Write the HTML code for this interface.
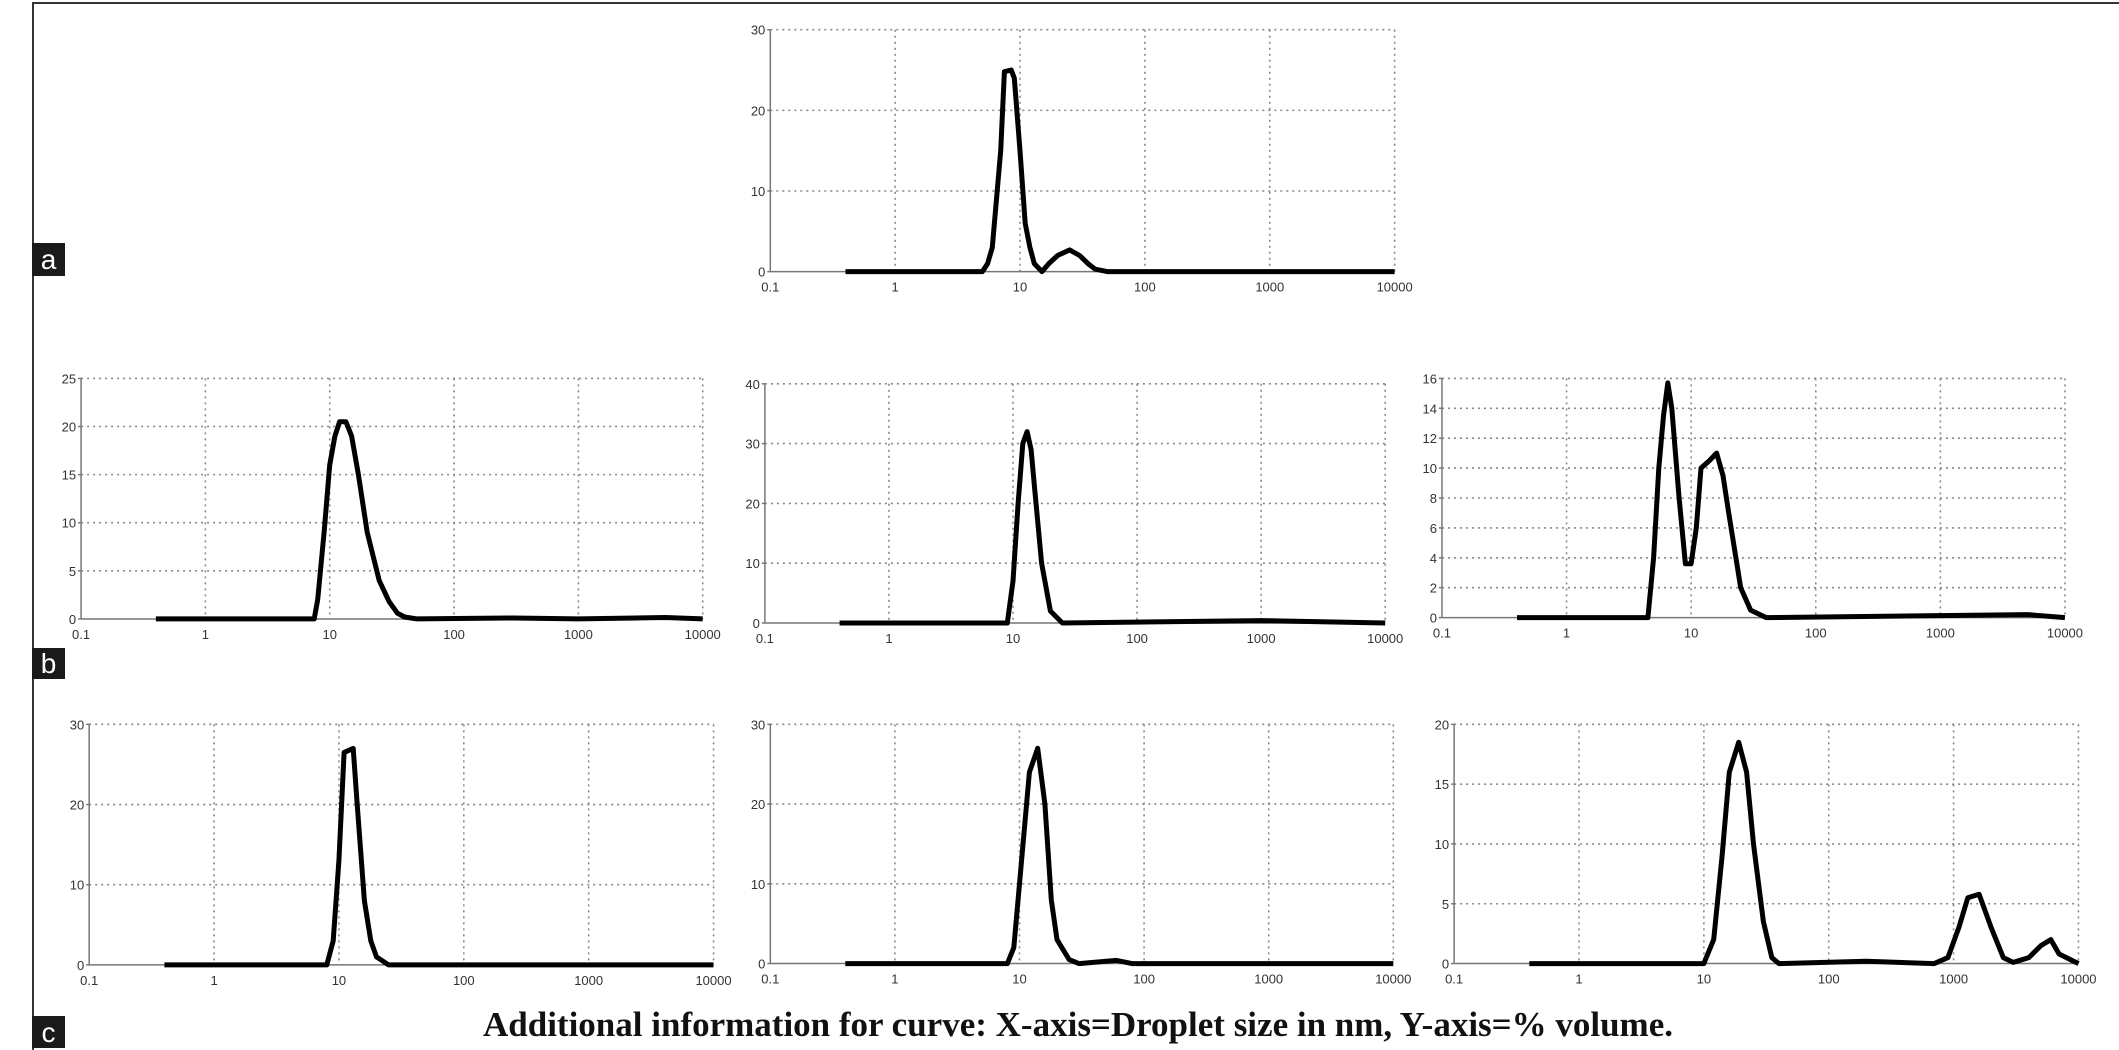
<!DOCTYPE html>
<html><head><meta charset="utf-8"><style>
html,body{margin:0;padding:0;background:#fff;}
svg{display:block;}
</style></head><body>
<svg id="fig" width="2119" height="1050" viewBox="0 0 2119 1050" xmlns="http://www.w3.org/2000/svg">
<line x1="32" y1="3" x2="2119" y2="3" stroke="#333" stroke-width="2"/>
<line x1="33" y1="3" x2="33" y2="1050" stroke="#333" stroke-width="2"/>
<rect x="32" y="243" width="33" height="33" fill="#1a1a1a"/>
<text x="48.5" y="269" fill="#fff" font-family="Liberation Sans, sans-serif" font-size="28" text-anchor="middle">a</text>
<rect x="32" y="648" width="33" height="31" fill="#1a1a1a"/>
<text x="48.5" y="673" fill="#fff" font-family="Liberation Sans, sans-serif" font-size="28" text-anchor="middle">b</text>
<rect x="32" y="1016" width="33" height="32" fill="#1a1a1a"/>
<text x="48.5" y="1042" fill="#fff" font-family="Liberation Sans, sans-serif" font-size="28" text-anchor="middle">c</text>
<text x="1078" y="1036" font-family="Liberation Serif, serif" font-weight="bold" font-size="35" text-anchor="middle" fill="#111">Additional information for curve: X-axis=Droplet size in nm, Y-axis=% volume.</text>
</svg>
<script>
// x tick labels (shared)
const xTickLabels = ["0.1","1","10","100","1000","10000"];
// Panel a
const aX = [0.4,5,5.5,6,7,7.5,8.5,9,10,11,12,13,15,17,20,25,30,35,40,50,10000];
const aY = [0,0,1,3,15,24.8,25,24,15,6,3,1,0,1,2,2.7,2,1,0.3,0,0];
const aTicks = [0,10,20,30];
// Panel b1
const b1X = [0.4,7.5,8,9,10,11,12,13.5,15,17,20,25,30,35,40,50,300,1000,5000,10000];
const b1Y = [0,0,2,9,16,19,20.5,20.5,19,15,9,4,1.8,0.6,0.2,0,0.1,0,0.15,0];
const b1Ticks = [0,5,10,15,20,25];
// Panel b2
const b2X = [0.4,9,10,11,12,13,14,15,17,20,25,1000,10000];
const b2Y = [0,0,7,20,30,32,29,22,10,2,0,0.4,0];
const b2Ticks = [0,10,20,30,40];
// Panel b3
const b3X = [0.4,4.5,5,5.5,6,6.5,7,8,9,10,11,12,14,16,18,20,25,30,40,5000,10000];
const b3Y = [0,0,4,10,13.5,15.7,14,8,3.6,3.6,6,10,10.5,11,9.5,7,2,0.5,0,0.2,0];
const b3Ticks = [0,2,4,6,8,10,12,14,16];
// Panel c1
const c1X = [0.4,8,9,10,11,13,14,16,18,20,25,10000];
const c1Y = [0,0,3,13,26.5,27,20,8,3,1,0,0];
const c1Ticks = [0,10,20,30];
// Panel c2
const c2X = [0.4,8,9,10,12,14,16,18,20,25,30,60,80,10000];
const c2Y = [0,0,2,10,24,27,20,8,3,0.5,0,0.4,0,0];
const c2Ticks = [0,10,20,30];
// Panel c3
const c3X = [0.4,10,12,14,16,19,22,25,30,35,40,200,700,900,1100,1300,1600,2000,2500,3000,4000,5000,6000,7000,10000];
const c3Y = [0,0,2,9,16,18.5,16,10,3.5,0.5,0,0.2,0,0.5,3,5.5,5.8,3,0.5,0.1,0.5,1.5,2,0.8,0];
const c3Ticks = [0,5,10,15,20];

const S = 2119/1568;
const NS = "http://www.w3.org/2000/svg";
const svg = document.getElementById('fig');
function mk(tag, attrs, parent){const e=document.createElementNS(NS,tag);for(const k in attrs)e.setAttribute(k,attrs[k]);(parent||svg).appendChild(e);return e;}

function panel(id, box, xs, ys, ticks){
  const L=box[0]*S, R=box[1]*S, T=box[2]*S, B=box[3]*S;
  const yMax = ticks[ticks.length-1];
  const xs_ = v => L + (Math.log10(v)+1)/5*(R-L);
  const ys_ = v => B - v/yMax*(B-T);
  const g = mk('g',{});
  
  
  ticks.forEach((t,i)=>{ if(i===0) return;
    const l=mk('line',{x1:L,x2:R,y1:ys_(t),y2:ys_(t),stroke:'#888','stroke-width':1.6,'stroke-dasharray':'2 4'},g);
    
    
  });
  xTickLabels.forEach((lab,i)=>{
    const x=xs_(parseFloat(lab));
    if(i>0){const l=mk('line',{x1:x,x2:x,y1:T,y2:B,stroke:'#888','stroke-width':1.6,'stroke-dasharray':'2 4'},g);
      
      }
    const tx=mk('text',{x:x,y:B+20,'font-family':'Liberation Sans, sans-serif','font-size':13,'text-anchor':'middle',fill:'#333'},g);
    tx.textContent=lab;
    
    
  });
  const ya=mk('line',{x1:L,x2:L,y1:T,y2:B,stroke:'#777','stroke-width':1.5},g);
  
  
  const xa=mk('line',{x1:L,x2:R,y1:B,y2:B,stroke:'#777','stroke-width':1.5},g);
  
  
  ticks.forEach(t=>{
    const tx=mk('text',{x:L-5,y:ys_(t)+5,'font-family':'Liberation Sans, sans-serif','font-size':13,'text-anchor':'end',fill:'#333'},g);
    tx.textContent=t;
    
    
    mk('line',{x1:L-3,x2:L,y1:ys_(t),y2:ys_(t),stroke:'#777','stroke-width':1.5},g);
  });
  const d = xs.map((v,i)=>(i?'L':'M')+xs_(v).toFixed(1)+' '+ys_(ys[i]).toFixed(1)).join(' ');
  const p=mk('path',{d:d,fill:'none',stroke:'#000','stroke-width':5,'stroke-linejoin':'round','stroke-linecap':'butt'},g);
  
  
}
panel('a',[570,1032,22,201],aX,aY,aTicks);
panel('b1',[60,520,280,458],b1X,b1Y,b1Ticks);
panel('b2',[566,1025,284,461],b2X,b2Y,b2Ticks);
panel('b3',[1067,1528,280,457],b3X,b3Y,b3Ticks);
panel('c1',[66,528,536,714],c1X,c1Y,c1Ticks);
panel('c2',[570,1031,536,713],c2X,c2Y,c2Ticks);
panel('c3',[1076,1538,536,713],c3X,c3Y,c3Ticks);
</script>
</body></html>
